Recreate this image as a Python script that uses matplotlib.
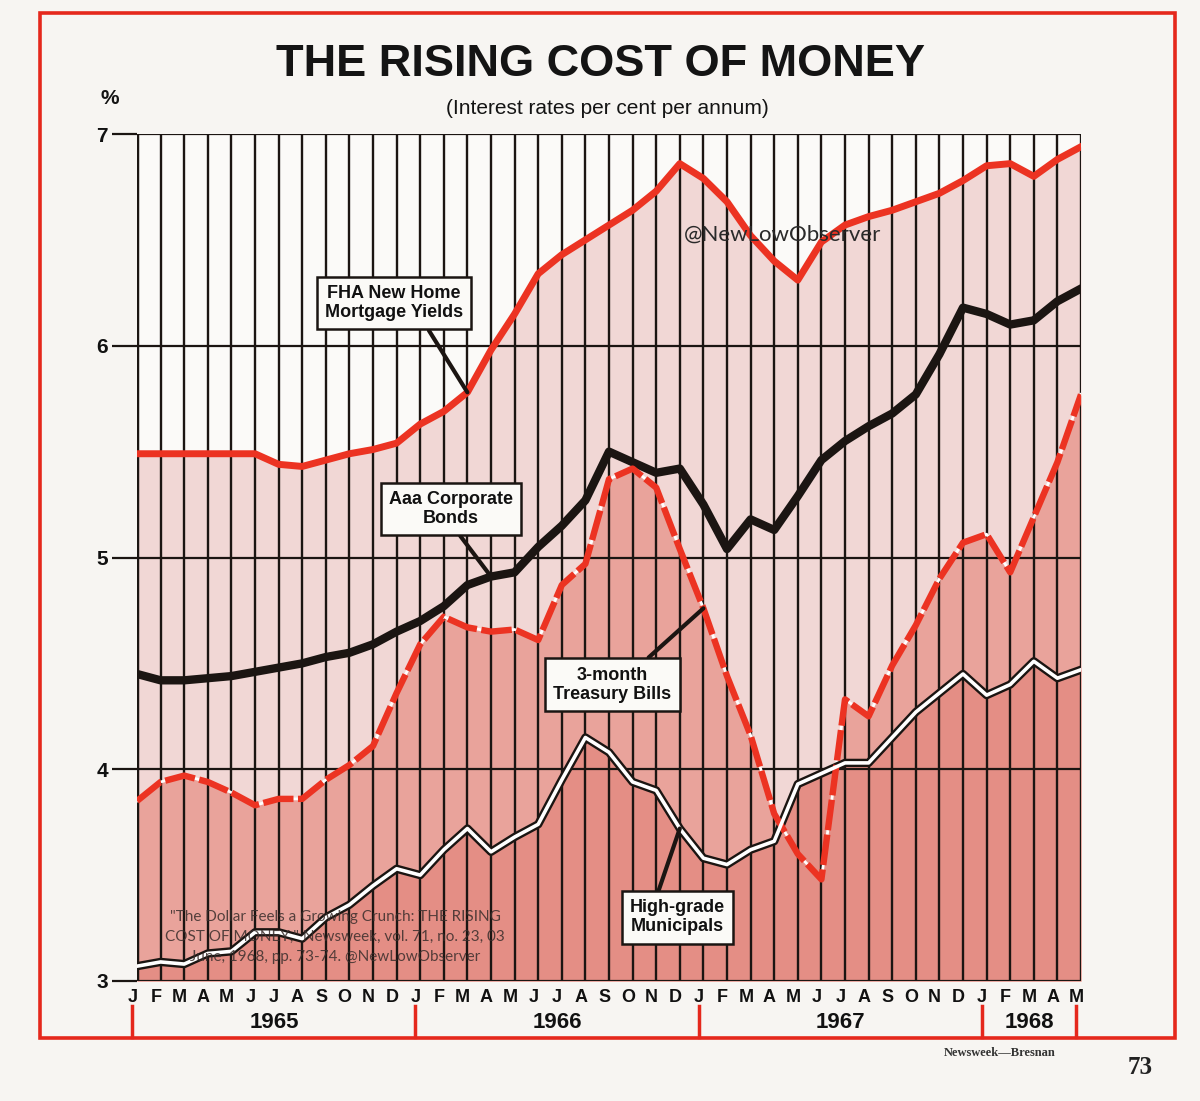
import numpy as np
import matplotlib.pyplot as plt
from matplotlib.patches import Rectangle
from matplotlib.transforms import blended_transform_factory

# monthly values, Jan 1965 .. May 1968 (per cent per annum)
months = list("JFMAMJJASOND") * 3 + list("JFMAM")
years = ["1965", "1966", "1967", "1968"]
year_starts = [0, 12, 24, 36, 40]

fha = [5.49, 5.49, 5.49, 5.49, 5.49, 5.49, 5.44, 5.43, 5.46, 5.49, 5.51, 5.54,
       5.63, 5.69, 5.78, 5.98, 6.15, 6.34, 6.43, 6.50, 6.57, 6.64, 6.73, 6.86,
       6.79, 6.68, 6.52, 6.40, 6.31, 6.49, 6.57, 6.61, 6.64, 6.68, 6.72, 6.78,
       6.85, 6.86, 6.80, 6.88, 6.94]
aaa = [4.45, 4.42, 4.42, 4.43, 4.44, 4.46, 4.48, 4.50, 4.53, 4.55, 4.59, 4.65,
       4.70, 4.77, 4.87, 4.91, 4.93, 5.05, 5.15, 5.27, 5.50, 5.45, 5.40, 5.42,
       5.25, 5.04, 5.18, 5.13, 5.29, 5.46, 5.55, 5.62, 5.68, 5.77, 5.96, 6.18,
       6.15, 6.10, 6.12, 6.21, 6.27]
tbill = [3.85, 3.94, 3.97, 3.94, 3.89, 3.83, 3.86, 3.86, 3.95, 4.02, 4.11, 4.36,
         4.59, 4.72, 4.67, 4.65, 4.66, 4.61, 4.87, 4.97, 5.37, 5.42, 5.33, 5.04,
         4.76, 4.44, 4.16, 3.79, 3.60, 3.48, 4.33, 4.25, 4.49, 4.68, 4.90, 5.07,
         5.11, 4.93, 5.19, 5.45, 5.77]
muni = [3.07, 3.09, 3.08, 3.13, 3.14, 3.23, 3.23, 3.20, 3.30, 3.36, 3.45, 3.53,
        3.50, 3.62, 3.72, 3.61, 3.68, 3.74, 3.95, 4.15, 4.08, 3.94, 3.90, 3.72,
        3.58, 3.55, 3.62, 3.66, 3.93, 3.98, 4.03, 4.03, 4.15, 4.27, 4.36, 4.45,
        4.35, 4.40, 4.51, 4.43, 4.47]
x = np.arange(len(fha))

narrow = ['Liberation Sans Narrow', 'Liberation Sans', 'DejaVu Sans']
sans = ['Liberation Sans', 'DejaVu Sans']
thin = ['Lato', 'DejaVu Sans']
red = '#ec3322'
ink = '#1b1512'

W, H = 1200, 1101
fig = plt.figure(figsize=(W / 100, H / 100), dpi=100)
fig.patch.set_facecolor('#f7f5f2')
ax = fig.add_axes([137 / W, 1 - 981 / H, (1081 - 137) / W, (981 - 134) / H])
ax.set_xlim(0, 40)
ax.set_ylim(3, 7)
ax.set_facecolor('#fbfaf8')
for s in ax.spines.values():
    s.set_visible(False)

# layered fills
ax.fill_between(x, 3, fha, color='#f1d7d5', lw=0, zorder=1)
ax.fill_between(x, 3, tbill, color='#e9a39b', lw=0, zorder=1.2)
ax.fill_between(x, 3, muni, color='#e48e85', lw=0, zorder=1.4)

# grid
ax.vlines(x[1:], 3, 7, color=ink, lw=1.7, zorder=3)
ax.vlines([0], 3, 7, color=ink, lw=3.2, zorder=3)
ax.hlines([3, 4, 5, 6, 7], 0, 40, color=ink, lw=1.6, zorder=3)

ax.set_xticks([])
ax.set_yticks([3, 4, 5, 6, 7])
ax.set_yticklabels(['3', '4', '5', '6', '7'], fontsize=15, fontweight='bold',
                   family=sans, color='#111')
ax.tick_params(axis='y', length=18, width=1.6, color=ink, pad=3)

# series
ax.plot(x, fha, color=red, lw=5, zorder=5)
ax.plot(x, aaa, color=ink, lw=6, zorder=5)
ax.plot(x, tbill, color='white', lw=2, zorder=5)
ax.plot(x, tbill, color=red, lw=4.6, dashes=(4.8, 0.7), zorder=5.1)
ax.plot(x, muni, color=ink, lw=6, zorder=5)
ax.plot(x, muni, color='white', lw=2.6, zorder=5.1)

# labels with leader lines
box = dict(boxstyle='square,pad=0.45', fc='#fbfaf7', ec=ink, lw=1.8)
lab = dict(ha='center', va='center', fontsize=13, fontweight='bold', family=sans,
           color='#111', bbox=box, zorder=8, linespacing=1.15)


def leader(rel):
    return dict(arrowstyle='-', color=ink, lw=3, relpos=rel, shrinkA=0, shrinkB=0)


ax.annotate('FHA New Home\nMortgage Yields', xy=(14, fha[14]), xytext=(10.9, 6.2),
            arrowprops=leader((0.71, 0)), **lab)
ax.annotate('Aaa Corporate\nBonds', xy=(15, aaa[15]), xytext=(13.3, 5.23),
            arrowprops=leader((0.52, 0)), **lab)
ax.annotate('3-month\nTreasury Bills', xy=(24, tbill[24]), xytext=(20.15, 4.4),
            arrowprops=leader((0.72, 1)), **lab)
ax.annotate('High-grade\nMunicipals', xy=(23, muni[23]), xytext=(22.9, 3.3),
            arrowprops=leader((0.27, 1)), **lab)

# month and year labels under the chart
tr = blended_transform_factory(ax.transData, fig.transFigure)
for i, m in enumerate(months):
    ax.text(i - 0.2, 1 - 998 / H, m, transform=tr, ha='center', va='center',
            fontsize=13, fontweight='bold', family=narrow, color='#111')
for k, yr in enumerate(years):
    a, b = year_starts[k] - 0.2, year_starts[k + 1] - 0.2
    ax.text((a + b) / 2, 1 - 1022 / H, yr, transform=tr, ha='center', va='center',
            fontsize=16, fontweight='bold', family=narrow, color='#111')
for s in year_starts:
    ax.plot([s - 0.2, s - 0.2], [1 - 1006 / H, 1 - 1037 / H], transform=tr,
            color='#e5281c', lw=2.5, clip_on=False, zorder=6)

# frame and titles
fig.patches.append(Rectangle((40 / W, 1 - 1038 / H), (1175 - 40) / W, (1038 - 13) / H,
                             transform=fig.transFigure, fill=False, ec='#e5281c', lw=2.6))
fig.text(601 / W, 1 - 64 / H, 'THE RISING COST OF MONEY', ha='center', va='center',
         fontsize=32.5, fontweight='bold', family=narrow, color='#141414')
fig.text(607 / W, 1 - 108 / H, '(Interest rates per cent per annum)', ha='center',
         va='center', fontsize=15, family=sans, color='#141414')
fig.text(110 / W, 1 - 98 / H, '%', ha='center', va='center', fontsize=15,
         fontweight='bold', family=sans, color='#141414')

# watermark / source notes
fig.text(783 / W, 1 - 235 / H, '@NewLowObserver', ha='center', va='center',
         fontsize=16, family=thin, color='#2a2a2a', zorder=10)
fig.text(335 / W, 1 - 937 / H,
         '"The Dollar Feels a Growing Crunch: THE RISING\n'
         'COST OF MONEY," Newsweek, vol. 71, no. 23, 03\n'
         'June, 1968, pp. 73-74. @NewLowObserver',
         ha='center', va='center', fontsize=11, family=thin,
         color='#3a2e2c', alpha=0.85, linespacing=1.5, zorder=10)
fig.text(1000 / W, 1 - 1053 / H, 'Newsweek—Bresnan', ha='center', va='center',
         fontsize=9, fontweight='bold', family=['Liberation Serif', 'DejaVu Serif'],
         color='#333')
fig.text(1140 / W, 1 - 1068 / H, '73', ha='center', va='center', fontsize=18,
         fontweight='bold', family=['Liberation Serif', 'DejaVu Serif'], color='#222')

fig.savefig('out.png', dpi=100, facecolor=fig.get_facecolor())
